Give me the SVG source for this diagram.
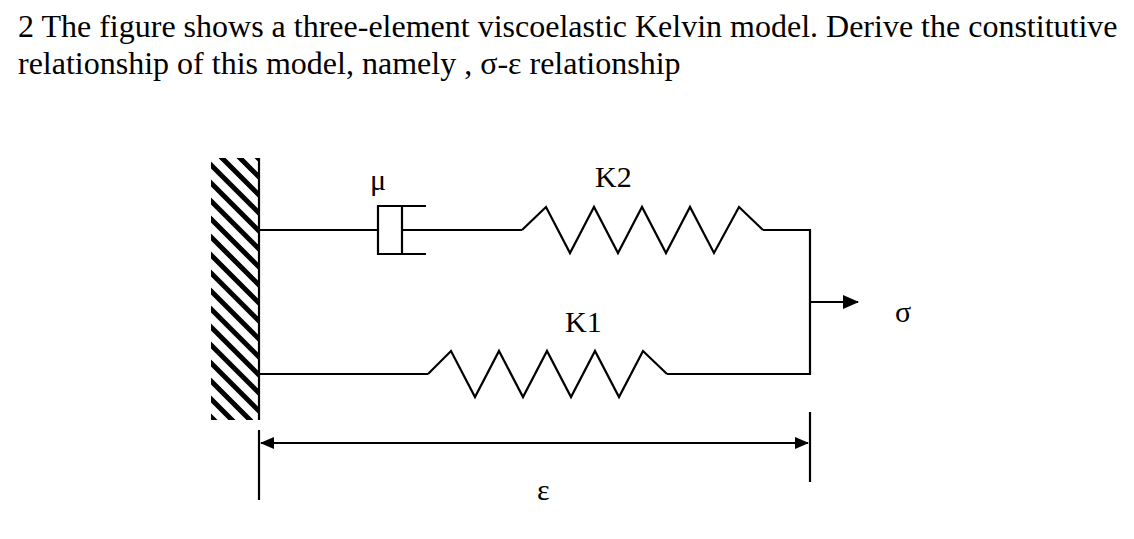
<svg xmlns="http://www.w3.org/2000/svg" width="1134" height="539" viewBox="0 0 1134 539">
<style>
.t{font-family:"Liberation Serif",serif;font-size:32px;fill:#000}
.l{font-family:"Liberation Serif",serif;font-size:30px;fill:#000}
.s{fill:none;stroke:#000;stroke-width:2.2}
.h{stroke:#000;stroke-width:5}
</style>
<defs>
<clipPath id="c"><rect x="211" y="158" width="48" height="262"/></clipPath>
<marker id="a" markerWidth="16" markerHeight="14" refX="15" refY="7" orient="auto" markerUnits="userSpaceOnUse" viewBox="0 0 16 14"><path d="M0,0L16,7L0,14z"/></marker>
<marker id="b" markerWidth="14" markerHeight="12" refX="13" refY="6" orient="auto-start-reverse" markerUnits="userSpaceOnUse" viewBox="0 0 14 12"><path d="M0,0L14,6L0,12z"/></marker>
</defs>
<text class="t" x="18" y="37">2 The figure shows a three-element viscoelastic Kelvin model. Derive the constitutive</text>
<text class="t" x="18" y="74">relationship of this model, namely , σ-ε relationship</text>
<g id="wall">
<g clip-path="url(#c)">
<path class="h" d="M200,100l70,70M200,118l70,70M200,136l70,70M200,154l70,70M200,172l70,70M200,190l70,70M200,208l70,70M200,226l70,70M200,244l70,70M200,262l70,70M200,280l70,70M200,298l70,70M200,316l70,70M200,334l70,70M200,352l70,70M200,370l70,70M200,388l70,70M200,406l70,70"/>
</g>
<line class="s" x1="259" y1="158" x2="259" y2="420"/>
</g>
<g id="dashpot">
<path class="s" d="M426,206H378V254H426M402,206V254"/>
<text class="l" x="370" y="190">μ</text>
</g>
<g id="K2">
<path class="s" d="M522,230L546,207L570,253L594,207L618,253L642,207L666,253L690,207L714,253L739,207L763,230"/>
<text class="l" x="595" y="187">K2</text>
</g>
<g id="K1">
<path class="s" d="M428,374L451,351L475,397L499,351L523,397L547,351L571,397L595,351L619,397L643,351L667,374"/>
<text class="l" x="565" y="332">K1</text>
</g>
<g id="connectors">
<path class="s" d="M259,230H378M402,230H522M763,230H810V374H667M428,374H259"/>
<line class="s" x1="810" y1="302" x2="858" y2="302" marker-end="url(#a)"/>
<line class="s" x1="259" y1="430" x2="259" y2="500"/>
<line class="s" x1="810" y1="412" x2="810" y2="482"/>
<line class="s" x1="261" y1="443" x2="808" y2="443" marker-start="url(#b)" marker-end="url(#b)"/>
</g>
<text class="l" x="895" y="322">σ</text>
<text class="l" x="537" y="500">ε</text>
</svg>
